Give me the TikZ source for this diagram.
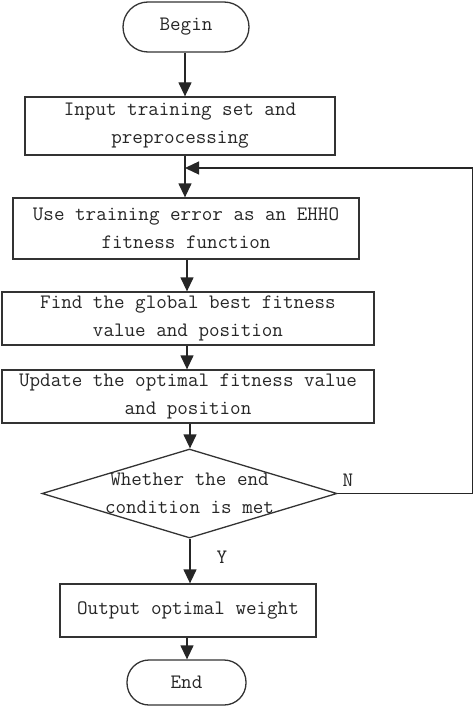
\documentclass[tikz,border=0pt]{standalone}
\usetikzlibrary{shapes.geometric,arrows.meta}
\begin{document}
\begin{tikzpicture}[x=1pt,y=-1pt,
  every node/.style={font=\ttfamily\fontsize{20.5}{28}\selectfont, text=black!85, inner sep=0pt},
  procbox/.style={draw=black!80, line width=1.3pt, rectangle, align=center},
  termbox/.style={draw=black!80, line width=1.3pt, rectangle, rounded corners=#1},
  decbox/.style={draw=black!80, line width=1.3pt, diamond},
  arr/.style={draw=black!85, line width=1.3pt, -{Triangle[width=13pt,length=14pt]}},
  plain/.style={draw=black!85, line width=1.3pt}
]
\useasboundingbox (0,0) rectangle (474,706);
\node[termbox=25pt, minimum width=126pt, minimum height=50pt] (begin) at (186,27) {Begin};
\node[procbox, minimum width=310pt, minimum height=58pt] (b1) at (180,126) {Input training set and\\preprocessing};
\node[procbox, minimum width=346pt, minimum height=61pt] (b2) at (186,228.5) {Use training error as an EHHO\\fitness function};
\node[procbox, minimum width=372pt, minimum height=53pt] (b3) at (188,318.5) {Find the global best fitness\\value and position};
\node[procbox, minimum width=372pt, minimum height=53pt] (b4) at (188,396.5) {Update the optimal fitness value\\and position};
\node[decbox, minimum width=295pt, minimum height=89pt,
  label={[align=center]center:Whether the end\\condition is met}] (dec) at (189.5,493.5) {};
\node[procbox, minimum width=256pt, minimum height=53pt] (out) at (188,610.5) {Output optimal weight};
\node[termbox=22pt, minimum width=119pt, minimum height=45pt] (end) at (186.5,682.5) {End};
\node (nlab) at (348,480) {N};
\node (ylab) at (222,557) {Y};
\coordinate (c1) at (185,0);
\coordinate (c2) at (187,0);
\coordinate (c3) at (190,0);
\coordinate (rt) at (472.5,0);
\coordinate (joinpt) at (185,168);
\draw[arr] (begin.south -| c1) -- (b1.north -| c1);
\draw[arr] (b1.south -| c1) -- (b2.north -| c1);
\draw[arr] (b2.south -| c2) -- (b3.north -| c2);
\draw[arr] (b3.south -| c2) -- (b4.north -| c2);
\draw[arr] (b4.south -| c3) -- (dec.north -| c3);
\draw[arr] (dec.south -| c3) -- (out.north -| c3);
\draw[arr] (out.south -| c2) -- (end.north -| c2);
\draw[arr] (dec.east) -- (dec.east -| rt) -- (joinpt -| rt) -- (joinpt);
\end{tikzpicture}
\end{document}
